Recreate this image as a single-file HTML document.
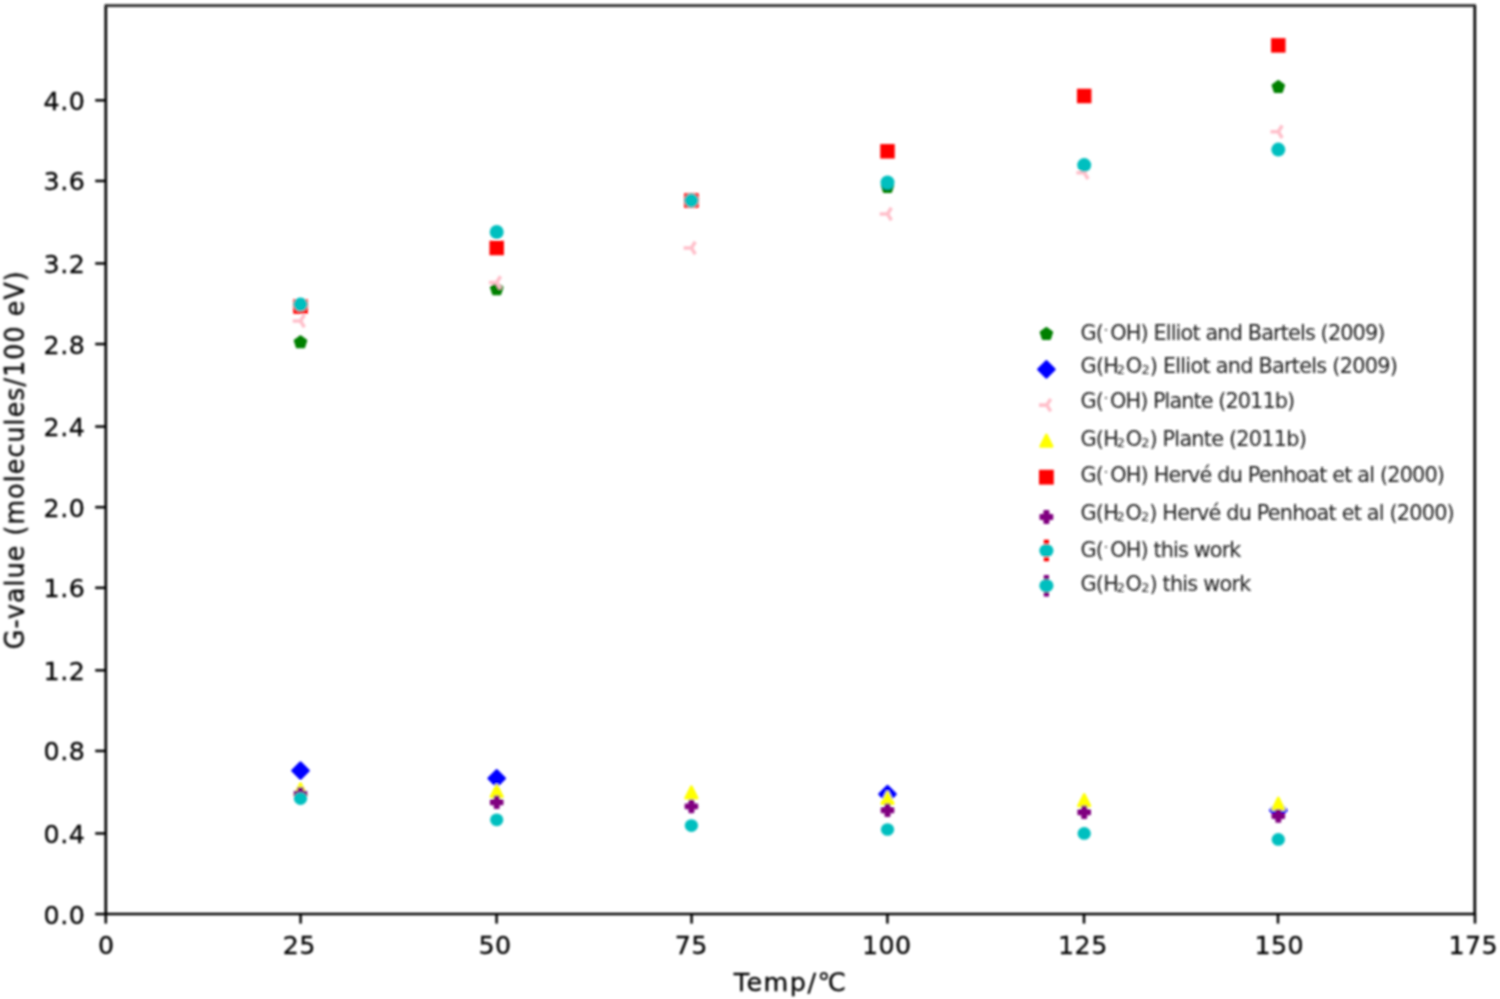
<!DOCTYPE html>
<html lang="en"><head><meta charset="utf-8"><title>G-value vs Temp</title>
<style>html,body{margin:0;padding:0;background:#fff;overflow:hidden}svg{display:block}text{font-family:'DejaVu Sans', 'Liberation Sans', sans-serif;fill:#000;stroke:#000;stroke-width:0.3px}#legend text{stroke:none;fill:#1c1c1c}</style></head><body>
<svg width="1500" height="999" viewBox="0 0 1500 999">
<defs><filter id="bl" x="-5%" y="-5%" width="110%" height="110%"><feGaussianBlur stdDeviation="0.85"/></filter></defs>
<rect width="1500" height="999" fill="#ffffff"/>
<g filter="url(#bl)">
<g id="markers"><polygon points="300.5,336.65 305.97,340.62 303.88,347.05 297.12,347.05 295.03,340.62" fill="#008000" stroke="#008000" stroke-width="2.6" stroke-linejoin="round"/><polygon points="496.7,283.45 502.17,287.42 500.08,293.85 493.32,293.85 491.23,287.42" fill="#008000" stroke="#008000" stroke-width="2.6" stroke-linejoin="round"/><polygon points="887.5,181.25 892.97,185.22 890.88,191.65 884.12,191.65 882.03,185.22" fill="#008000" stroke="#008000" stroke-width="2.6" stroke-linejoin="round"/><polygon points="1278.3,81.25 1283.77,85.22 1281.68,91.65 1274.92,91.65 1272.83,85.22" fill="#008000" stroke="#008000" stroke-width="2.6" stroke-linejoin="round"/><polygon points="300.5,762.6 308.5,770.6 300.5,778.6 292.5,770.6" fill="#0000ff" stroke="#0000ff" stroke-width="2.6" stroke-linejoin="round"/><polygon points="496.7,770.4 504.7,778.4 496.7,786.4 488.7,778.4" fill="#0000ff" stroke="#0000ff" stroke-width="2.6" stroke-linejoin="round"/><polygon points="887.5,786.2 895.5,794.2 887.5,802.2 879.5,794.2" fill="#0000ff" stroke="#0000ff" stroke-width="2.6" stroke-linejoin="round"/><polygon points="1278.3,802.3 1286.3,810.3 1278.3,818.3 1270.3,810.3" fill="#0000ff" stroke="#0000ff" stroke-width="2.6" stroke-linejoin="round"/><path d="M300.5 321L292.7 321M300.5 321L304.4 314.76M300.5 321L304.4 327.24" stroke="#ffc0cb" stroke-width="3.6" fill="none" stroke-linecap="butt"/><path d="M496.7 282.5L488.9 282.5M496.7 282.5L500.6 276.26M496.7 282.5L500.6 288.74" stroke="#ffc0cb" stroke-width="3.6" fill="none" stroke-linecap="butt"/><path d="M691.4 248L683.6 248M691.4 248L695.3 241.76M691.4 248L695.3 254.24" stroke="#ffc0cb" stroke-width="3.6" fill="none" stroke-linecap="butt"/><path d="M887.5 214L879.7 214M887.5 214L891.4 207.76M887.5 214L891.4 220.24" stroke="#ffc0cb" stroke-width="3.6" fill="none" stroke-linecap="butt"/><path d="M1084.2 172.8L1076.4 172.8M1084.2 172.8L1088.1 166.56M1084.2 172.8L1088.1 179.04" stroke="#ffc0cb" stroke-width="3.6" fill="none" stroke-linecap="butt"/><path d="M1278.3 131.7L1270.5 131.7M1278.3 131.7L1282.2 125.46M1278.3 131.7L1282.2 137.94" stroke="#ffc0cb" stroke-width="3.6" fill="none" stroke-linecap="butt"/><polygon points="300.5,783.4 306.3,795 294.7,795" fill="#ffff00" stroke="#ffff00" stroke-width="2.6" stroke-linejoin="round"/><polygon points="496.7,785.2 502.5,796.8 490.9,796.8" fill="#ffff00" stroke="#ffff00" stroke-width="2.6" stroke-linejoin="round"/><polygon points="691.4,786.6 697.2,798.2 685.6,798.2" fill="#ffff00" stroke="#ffff00" stroke-width="2.6" stroke-linejoin="round"/><polygon points="887.5,792 893.3,803.6 881.7,803.6" fill="#ffff00" stroke="#ffff00" stroke-width="2.6" stroke-linejoin="round"/><polygon points="1084.2,794.3 1090,805.9 1078.4,805.9" fill="#ffff00" stroke="#ffff00" stroke-width="2.6" stroke-linejoin="round"/><polygon points="1278.3,797.9 1284.1,809.5 1272.5,809.5" fill="#ffff00" stroke="#ffff00" stroke-width="2.6" stroke-linejoin="round"/><rect x="293.25" y="299.25" width="14.5" height="14.5" fill="#ff0000"/><rect x="489.45" y="240.75" width="14.5" height="14.5" fill="#ff0000"/><rect x="684.15" y="193.25" width="14.5" height="14.5" fill="#ff0000"/><rect x="880.25" y="144.05" width="14.5" height="14.5" fill="#ff0000"/><rect x="1076.95" y="88.75" width="14.5" height="14.5" fill="#ff0000"/><rect x="1271.05" y="38.15" width="14.5" height="14.5" fill="#ff0000"/><polygon points="298.65,788.1 302.35,788.1 302.35,791.95 306.2,791.95 306.2,795.65 302.35,795.65 302.35,799.5 298.65,799.5 298.65,795.65 294.8,795.65 294.8,791.95 298.65,791.95" fill="#800080" stroke="#800080" stroke-width="2.2" stroke-linejoin="round"/><polygon points="494.85,796.6 498.55,796.6 498.55,800.45 502.4,800.45 502.4,804.15 498.55,804.15 498.55,808 494.85,808 494.85,804.15 491,804.15 491,800.45 494.85,800.45" fill="#800080" stroke="#800080" stroke-width="2.2" stroke-linejoin="round"/><polygon points="689.55,800.7 693.25,800.7 693.25,804.55 697.1,804.55 697.1,808.25 693.25,808.25 693.25,812.1 689.55,812.1 689.55,808.25 685.7,808.25 685.7,804.55 689.55,804.55" fill="#800080" stroke="#800080" stroke-width="2.2" stroke-linejoin="round"/><polygon points="885.65,804.6 889.35,804.6 889.35,808.45 893.2,808.45 893.2,812.15 889.35,812.15 889.35,816 885.65,816 885.65,812.15 881.8,812.15 881.8,808.45 885.65,808.45" fill="#800080" stroke="#800080" stroke-width="2.2" stroke-linejoin="round"/><polygon points="1082.35,806.6 1086.05,806.6 1086.05,810.45 1089.9,810.45 1089.9,814.15 1086.05,814.15 1086.05,818 1082.35,818 1082.35,814.15 1078.5,814.15 1078.5,810.45 1082.35,810.45" fill="#800080" stroke="#800080" stroke-width="2.2" stroke-linejoin="round"/><polygon points="1276.45,810.3 1280.15,810.3 1280.15,814.15 1284,814.15 1284,817.85 1280.15,817.85 1280.15,821.7 1276.45,821.7 1276.45,817.85 1272.6,817.85 1272.6,814.15 1276.45,814.15" fill="#800080" stroke="#800080" stroke-width="2.2" stroke-linejoin="round"/><ellipse cx="300.5" cy="304.5" rx="7" ry="7" fill="#00bfbf"/><ellipse cx="496.7" cy="232" rx="7" ry="7" fill="#00bfbf"/><ellipse cx="691.4" cy="200.5" rx="7" ry="7" fill="#00bfbf"/><ellipse cx="887.5" cy="182.5" rx="7" ry="7" fill="#00bfbf"/><ellipse cx="1084.2" cy="165.1" rx="7" ry="7" fill="#00bfbf"/><ellipse cx="1278.3" cy="149.6" rx="7" ry="7" fill="#00bfbf"/><ellipse cx="300.5" cy="798.6" rx="6.65" ry="6.35" fill="#00bfbf"/><ellipse cx="496.7" cy="819.8" rx="6.65" ry="6.35" fill="#00bfbf"/><ellipse cx="691.4" cy="825.6" rx="6.65" ry="6.35" fill="#00bfbf"/><ellipse cx="887.5" cy="829.5" rx="6.65" ry="6.35" fill="#00bfbf"/><ellipse cx="1084.2" cy="833.4" rx="6.65" ry="6.35" fill="#00bfbf"/><ellipse cx="1278.3" cy="839.4" rx="6.65" ry="6.35" fill="#00bfbf"/></g>
<g id="axes" stroke="#000" stroke-width="2.5" fill="none">
<path d="M105.8 914V5.7H106.8" stroke="#000" stroke-width="2.7" stroke-linejoin="round"/>
<path d="M1474.8 914V5.7H1473.8" stroke="#000" stroke-width="2.7" stroke-linejoin="round"/>
<line x1="105.8" y1="5.7" x2="1474.8" y2="5.7" stroke="#2a2a2a" stroke-width="2.7"/>
<line x1="104.8" y1="914" x2="1476.1" y2="914"/>
<line x1="105.8" y1="914" x2="105.8" y2="923.6"/>
<line x1="300.6" y1="914" x2="300.6" y2="923.6"/>
<line x1="496.6" y1="914" x2="496.6" y2="923.6"/>
<line x1="691.6" y1="914" x2="691.6" y2="923.6"/>
<line x1="887.4" y1="914" x2="887.4" y2="923.6"/>
<line x1="1084" y1="914" x2="1084" y2="923.6"/>
<line x1="1278" y1="914" x2="1278" y2="923.6"/>
<line x1="1475" y1="914" x2="1475" y2="923.6"/>
<line x1="95.2" y1="914.06" x2="105.8" y2="914.06"/>
<line x1="95.2" y1="833.44" x2="105.8" y2="833.44"/>
<line x1="95.2" y1="750.94" x2="105.8" y2="750.94"/>
<line x1="95.2" y1="670.31" x2="105.8" y2="670.31"/>
<line x1="95.2" y1="587.81" x2="105.8" y2="587.81"/>
<line x1="95.2" y1="507.19" x2="105.8" y2="507.19"/>
<line x1="95.2" y1="426.56" x2="105.8" y2="426.56"/>
<line x1="95.2" y1="344.06" x2="105.8" y2="344.06"/>
<line x1="95.2" y1="263.44" x2="105.8" y2="263.44"/>
<line x1="95.2" y1="180.94" x2="105.8" y2="180.94"/>
<line x1="95.2" y1="100.31" x2="105.8" y2="100.31"/>
</g>
<g id="ticklabels" font-size="25.3" letter-spacing="0.45">
<text x="106.25" y="953.9" text-anchor="middle">0</text>
<text x="299.3" y="953.9" text-anchor="middle">25</text>
<text x="495" y="953.9" text-anchor="middle">50</text>
<text x="691.3" y="953.9" text-anchor="middle">75</text>
<text x="886.7" y="953.9" text-anchor="middle">100</text>
<text x="1082.9" y="953.9" text-anchor="middle">125</text>
<text x="1279.2" y="953.9" text-anchor="middle">150</text>
<text x="1473.2" y="953.9" text-anchor="middle">175</text>
<text x="85.2" y="923.56" text-anchor="end">0.0</text>
<text x="85.2" y="842.94" text-anchor="end">0.4</text>
<text x="85.2" y="760.44" text-anchor="end">0.8</text>
<text x="85.2" y="679.81" text-anchor="end">1.2</text>
<text x="85.2" y="597.31" text-anchor="end">1.6</text>
<text x="85.2" y="516.69" text-anchor="end">2.0</text>
<text x="85.2" y="436.06" text-anchor="end">2.4</text>
<text x="85.2" y="353.56" text-anchor="end">2.8</text>
<text x="85.2" y="272.94" text-anchor="end">3.2</text>
<text x="85.2" y="190.44" text-anchor="end">3.6</text>
<text x="85.2" y="109.81" text-anchor="end">4.0</text>
</g>
<text id="xlabel" x="790.6" y="991.4" font-size="25.4" letter-spacing="1.5" text-anchor="middle">Temp/℃</text>
<text id="ylabel" transform="translate(23.8 459.8) rotate(-90) scale(1 1.08)" font-size="25.4" letter-spacing="1.03" text-anchor="middle">G-value (molecules/100 eV)</text>
<g id="legend" font-size="20.8" style="stroke-width:0.15px">
<text id="lg0" x="1080.5" y="339.6" letter-spacing="-0.858">G(<tspan dy="-4.6" dx="0.8" font-size="14.6">⋅</tspan><tspan dy="4.6" dx="2.6">OH) Elliot and Bartels (2009)</tspan></text>
<text id="lg1" x="1080.5" y="372.5" letter-spacing="-0.737">G(H<tspan dy="1.2" dx="-1.4" font-size="12.8">2</tspan><tspan dy="-1.2" dx="1.6">O</tspan><tspan dy="1.2" font-size="12.8">2</tspan><tspan dy="-1.2" dx="0.8">) Elliot and Bartels (2009)</tspan></text>
<text id="lg2" x="1080.5" y="408" letter-spacing="-0.930">G(<tspan dy="-4.6" dx="0.8" font-size="14.6">⋅</tspan><tspan dy="4.6" dx="2.6">OH) Plante (2011b)</tspan></text>
<text id="lg3" x="1080.5" y="446.2" letter-spacing="-0.771">G(H<tspan dy="1.2" dx="-1.4" font-size="12.8">2</tspan><tspan dy="-1.2" dx="1.6">O</tspan><tspan dy="1.2" font-size="12.8">2</tspan><tspan dy="-1.2" dx="0.8">) Plante (2011b)</tspan></text>
<text id="lg4" x="1080.5" y="482" letter-spacing="-0.837">G(<tspan dy="-4.6" dx="0.8" font-size="14.6">⋅</tspan><tspan dy="4.6" dx="2.6">OH) Hervé du Penhoat et al (2000)</tspan></text>
<text id="lg5" x="1080.5" y="519.7" letter-spacing="-0.800">G(H<tspan dy="1.2" dx="-1.4" font-size="12.8">2</tspan><tspan dy="-1.2" dx="1.6">O</tspan><tspan dy="1.2" font-size="12.8">2</tspan><tspan dy="-1.2" dx="0.8">) Hervé du Penhoat et al (2000)</tspan></text>
<text id="lg6" x="1080.5" y="557" letter-spacing="-0.867">G(<tspan dy="-4.6" dx="0.8" font-size="14.6">⋅</tspan><tspan dy="4.6" dx="2.6">OH) this work</tspan></text>
<text id="lg7" x="1080.5" y="591" letter-spacing="-0.775">G(H<tspan dy="1.2" dx="-1.4" font-size="12.8">2</tspan><tspan dy="-1.2" dx="1.6">O</tspan><tspan dy="1.2" font-size="12.8">2</tspan><tspan dy="-1.2" dx="0.8">) this work</tspan></text>
<polygon points="1046.4,328.25 1051.87,332.22 1049.78,338.65 1043.02,338.65 1040.93,332.22" fill="#008000" stroke="#008000" stroke-width="2.6" stroke-linejoin="round"/>
<polygon points="1046.4,361.3 1054.4,369.3 1046.4,377.3 1038.4,369.3" fill="#0000ff" stroke="#0000ff" stroke-width="2.6" stroke-linejoin="round"/>
<path d="M1046.8 405.1L1039 405.1M1046.8 405.1L1050.7 398.86M1046.8 405.1L1050.7 411.34" stroke="#ffc0cb" stroke-width="3.6" fill="none" stroke-linecap="butt"/>
<polygon points="1046.4,434.8 1052.2,446.4 1040.6,446.4" fill="#ffff00" stroke="#ffff00" stroke-width="2.6" stroke-linejoin="round"/>
<rect x="1039" y="469.8" width="14.8" height="14.8" fill="#ff0000"/>
<polygon points="1044.5,511.2 1048.3,511.2 1048.3,515.1 1052.2,515.1 1052.2,518.9 1048.3,518.9 1048.3,522.8 1044.5,522.8 1044.5,518.9 1040.6,518.9 1040.6,515.1 1044.5,515.1" fill="#800080" stroke="#800080" stroke-width="2.2" stroke-linejoin="round"/>
<line x1="1046.4" y1="539.7" x2="1046.4" y2="561.3" stroke="#ff0000" stroke-width="5.2"/>
<ellipse cx="1046.4" cy="550.6" rx="7.1" ry="6.5" fill="#00bfbf"/>
<line x1="1046.4" y1="575.0" x2="1046.4" y2="596.6" stroke="#800080" stroke-width="5.2"/>
<ellipse cx="1046.4" cy="585.7" rx="7.1" ry="6.5" fill="#00bfbf"/>
</g>
</g>
</svg></body></html>
